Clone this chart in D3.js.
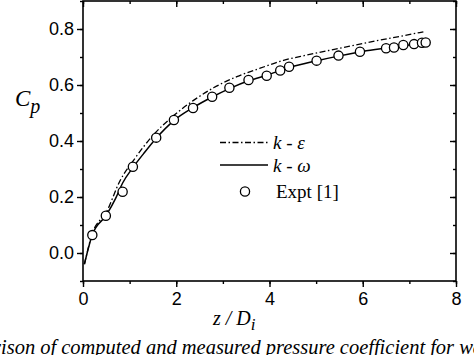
<!DOCTYPE html>
<html><head><meta charset="utf-8">
<script src="https://cdn.jsdelivr.net/npm/d3@7"></script>
<style>html,body{margin:0;padding:0;background:#fff;overflow:hidden}</style>
</head><body>
<svg id="c" width="474" height="355"></svg>
<script>
// Data
const exptX = [0.2,0.49,0.85,1.07,1.57,1.95,2.36,2.77,3.14,3.55,3.94,4.23,4.42,5.01,5.48,5.94,6.5,6.67,6.87,7.1,7.27,7.35];
const exptY = [0.064,0.133,0.219,0.308,0.412,0.475,0.518,0.558,0.59,0.618,0.633,0.652,0.665,0.687,0.705,0.719,0.731,0.734,0.743,0.746,0.751,0.752];
const kwX = [0.03,0.2,0.5,0.7,0.85,1.07,1.3,1.57,1.95,2.37,2.77,3.14,3.55,3.94,4.42,5.0,5.5,6.0,6.5,7.0,7.35];
const kwY = [-0.04,0.065,0.135,0.195,0.25,0.305,0.355,0.41,0.473,0.52,0.557,0.587,0.615,0.635,0.662,0.686,0.704,0.72,0.732,0.743,0.752];
const keX = [0.03,0.2,0.5,0.8,1.08,1.5,1.94,2.37,2.8,3.3,3.8,4.3,4.8,5.5,6.2,6.9,7.3];
const keY = [-0.04,0.07,0.145,0.26,0.33,0.42,0.49,0.545,0.59,0.63,0.66,0.688,0.707,0.731,0.755,0.777,0.79];
const xTicks = [0,2,4,6,8];
const yTicks = [0.0,0.2,0.4,0.6,0.8];
const legendLabels = ["k - \u03B5","k - \u03C9","Expt [1]"];
const caption = "Comparison of computed and measured pressure coefficient for wall";

const svg = d3.select("#c");
const L=83,R=456,T=1,B=281;
const x = d3.scaleLinear().domain([0,8]).range([L,R]);
const y = d3.scaleLinear().domain([-0.1,0.9]).range([B,T]);
const sans = "Liberation Sans, Arial, sans-serif";
const serif = "Liberation Serif, Times New Roman, serif";

// axes
const minorX = d3.range(0,8.01,1), minorY = d3.range(-0.1,0.901,0.1);
function styleAxis(g){ g.selectAll("path").remove(); g.selectAll("line").attr("stroke","#000").attr("stroke-width",1.4); }
svg.append("g").attr("transform",`translate(0,${B})`).call(d3.axisBottom(x).tickValues(minorX).tickSize(3).tickFormat("")).call(styleAxis);
svg.append("g").attr("transform",`translate(0,${B})`).call(d3.axisBottom(x).tickValues(xTicks).tickSize(6).tickPadding(5).tickFormat(d3.format("d"))).call(styleAxis)
  .selectAll("text").attr("font-family",sans).attr("font-size",18).attr("fill","#000");
svg.append("g").attr("transform",`translate(0,${T})`).call(d3.axisBottom(x).tickValues(minorX).tickSize(3).tickFormat("")).call(styleAxis);
svg.append("g").attr("transform",`translate(0,${T})`).call(d3.axisBottom(x).tickValues(xTicks).tickSize(6).tickFormat("")).call(styleAxis);
svg.append("g").attr("transform",`translate(${L},0)`).call(d3.axisLeft(y).tickValues(minorY).tickSize(3).tickFormat("")).call(styleAxis);
svg.append("g").attr("transform",`translate(${L},0)`).call(d3.axisLeft(y).tickValues(yTicks).tickSize(6).tickPadding(3).tickFormat(d3.format(".1f"))).call(styleAxis)
  .selectAll("text").attr("font-family",sans).attr("font-size",18).attr("fill","#000");
svg.append("g").attr("transform",`translate(${R},0)`).call(d3.axisLeft(y).tickValues(minorY).tickSize(3).tickFormat("")).call(styleAxis);
svg.append("g").attr("transform",`translate(${R},0)`).call(d3.axisLeft(y).tickValues(yTicks).tickSize(6).tickFormat("")).call(styleAxis);
svg.append("rect").attr("x",L).attr("y",T).attr("width",R-L).attr("height",B-T).attr("fill","none").attr("stroke","#000").attr("stroke-width",1.6);

// curves
const line = d3.line().x(d=>x(d[0])).y(d=>y(d[1])).curve(d3.curveMonotoneX);
svg.append("path").datum(keX.map((v,i)=>[v,keY[i]])).attr("d",line).attr("fill","none").attr("stroke","#000").attr("stroke-width",1.3).attr("stroke-dasharray","6,2.5,1.5,2.5");
svg.append("path").datum(kwX.map((v,i)=>[v,kwY[i]])).attr("d",line).attr("fill","none").attr("stroke","#000").attr("stroke-width",1.5);
svg.append("g").selectAll("circle").data(exptX.map((v,i)=>[v,exptY[i]])).join("circle")
  .attr("cx",d=>x(d[0])).attr("cy",d=>y(d[1])).attr("r",4.6).attr("fill","#fff").attr("stroke","#000").attr("stroke-width",1.3);

// legend
const lg = svg.append("g");
lg.append("line").attr("x1",220).attr("x2",268).attr("y1",142.5).attr("y2",142.5).attr("stroke","#000").attr("stroke-width",1.3).attr("stroke-dasharray","6,2.5,1.5,2.5");
lg.append("line").attr("x1",220).attr("x2",268).attr("y1",165).attr("y2",165).attr("stroke","#000").attr("stroke-width",1.5);
lg.append("circle").attr("cx",245).attr("cy",191.5).attr("r",4.6).attr("fill","#fff").attr("stroke","#000").attr("stroke-width",1.3);
lg.append("text").attr("x",273).attr("y",149).attr("font-family",serif).attr("font-style","italic").attr("font-size",19).text(legendLabels[0]);
lg.append("text").attr("x",273).attr("y",172).attr("font-family",serif).attr("font-style","italic").attr("font-size",19).text(legendLabels[1]);
lg.append("text").attr("x",276).attr("y",198).attr("font-family",serif).attr("font-size",19).text(legendLabels[2]);

// axis titles
const yt = svg.append("text").attr("x",15).attr("y",106).attr("font-family",serif).attr("font-style","italic").attr("font-size",23);
yt.append("tspan").text("C");
yt.append("tspan").attr("dy",7).attr("font-size",20).text("p");
const xt = svg.append("text").attr("x",213).attr("y",325).attr("font-family",serif).attr("font-style","italic").attr("font-size",20);
xt.append("tspan").text("z / D");
xt.append("tspan").attr("dy",5).attr("font-size",17).text("i");

// caption (cropped like the reference)
const cap = svg.append("text").attr("y",354).attr("font-family",serif).attr("font-style","italic").attr("font-size",20).text(caption);
const n = caption.length;
const visW = cap.node().getSubStringLength(6, n-6-3);
const fs = 20*472/visW;
cap.attr("font-size",fs);
const pre = cap.node().getSubStringLength(0,6);
cap.attr("x",1-pre);
</script>
</body></html>
